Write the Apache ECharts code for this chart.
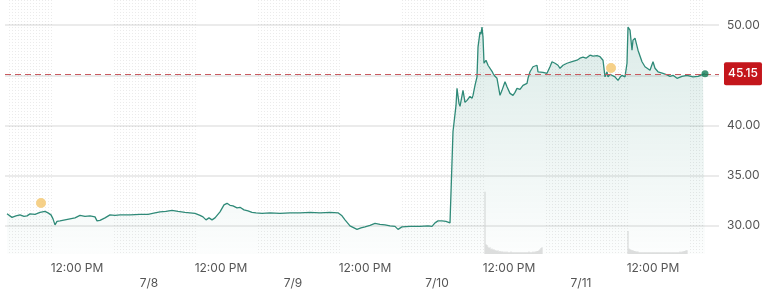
<!DOCTYPE html>
<html>
<head>
<meta charset="utf-8">
<script src="https://cdn.jsdelivr.net/npm/echarts@6/dist/echarts.min.js"></script>
<style>
html,body{margin:0;padding:0;background:#fff;}
#chart{width:768px;height:297px;}
</style>
</head>
<body>
<div id="chart"></div>
<script>
// ---------- DATA ----------
const YEAR = 2025, MONTH = 7;
// price points per day: [time, price]
const price_0707 = [['00:20',31.2],['01:10',30.85],['01:50',31.0],['02:30',31.1],['03:10',30.95],['03:40',31.0],['04:10',31.2],['05:00',31.15],['05:50',31.35],['06:40',31.45],['07:10',31.3],['07:40',31.1],['08:00',30.7],['08:20',30.1],['08:40',30.45],['09:10',30.5],['10:00',30.6],['10:50',30.7],['11:40',30.8],['12:30',31.05],['13:20',30.95],['14:10',31.0],['15:00',30.9],['15:20',30.5],['15:50',30.55],['16:40',30.8],['17:30',31.1],['18:20',31.05],['19:10',31.1],['20:50',31.1],['22:30',31.15],['23:50',31.15]];
const price_0708 = [['01:00',31.3],['01:50',31.4],['02:50',31.45],['03:50',31.55],['04:50',31.45],['06:00',31.35],['07:40',31.25],['08:30',31.05],['09:00',30.9],['09:30',30.6],['10:00',30.8],['10:30',30.6],['11:00',30.8],['11:50',31.4],['12:30',32.1],['13:00',32.25],['13:30',32.05],['14:00',32.0],['14:40',31.8],['15:10',31.85],['15:50',31.6],['16:30',31.5],['17:10',31.35],['17:50',31.3],['18:50',31.25],['20:10',31.3],['21:50',31.25],['23:30',31.3]];
const price_0709 = [['01:10',31.3],['02:50',31.35],['04:30',31.3],['06:10',31.35],['07:30',31.3],['08:10',31.0],['08:40',30.6],['09:30',30.0],['10:10',29.8],['10:40',29.65],['11:20',29.8],['12:00',29.9],['12:50',30.05],['13:40',30.25],['14:30',30.15],['15:20',30.1],['16:10',30.0],['17:00',29.95],['17:30',29.65],['18:10',29.9],['19:30',29.95],['21:10',29.95],['22:30',30.0],['23:10',29.95],['23:40',30.3]];
const price_0710 = [['00:10',30.5],['00:50',30.5],['01:30',30.45],['02:10',30.3],['02:30',30.35],['02:40',39.4],['03:00',39.5],['03:10',42.0],['03:20',43.7],['03:40',42.2],['03:50',41.9],['04:20',43.5],['04:40',42.3],['05:00',42.5],['05:30',42.9],['05:50',42.7],['06:00',43.0],['06:20',44.0],['06:40',44.85],['06:50',47.8],['07:10',49.3],['07:20',49.1],['07:30',49.8],['07:40',48.8],['07:50',46.2],['08:10',46.5],['08:30',46.0],['08:50',45.85],['09:10',45.4],['09:20',45.2],['09:40',44.9],['10:00',44.7],['10:30',43.0],['10:50',43.5],['11:20',44.35],['11:40',43.85],['12:10',43.2],['12:40',43.0],['13:00',43.3],['13:20',43.7],['13:50',43.6],['14:20',44.0],['14:40',43.9],['15:00',44.2],['15:10',44.7],['15:30',45.35],['16:00',45.85],['16:20',45.9],['16:40',46.0],['16:50',45.35],['17:10',45.4],['17:40',45.3],['18:20',45.2],['18:50',45.85],['19:10',46.35],['19:40',46.2],['20:10',46.0],['20:30',45.7],['21:00',46.0],['21:40',46.2],['22:30',46.35],['23:20',46.5],['23:50',46.7]];
const price_0711 = [['00:20',46.8],['00:50',46.7],['01:30',47.0],['02:00',46.9],['02:40',46.95],['03:10',46.85],['03:40',46.5],['04:00',44.85],['04:20',45.35],['04:30',44.85],['04:50',45.1],['05:10',45.0],['05:40',44.85],['06:10',44.5],['06:30',44.8],['06:50',45.0],['07:20',44.85],['07:40',46.2],['07:50',49.8],['08:10',49.5],['08:30',47.5],['08:40',48.5],['09:00',48.7],['09:30',47.5],['10:10',46.35],['10:40',45.85],['11:30',45.5],['12:00',46.35],['12:20',45.7],['12:50',45.35],['13:40',45.2],['14:20',45.05],['14:50',44.9],['15:20',45.0],['16:00',44.7],['16:50',44.9],['17:40',45.0],['18:40',44.85],['19:30',44.9],['20:20',45.1],['20:40',45.15]];

// volume (10-minute buckets)
const volume_0710_start = '08:00';
const volume_0710 = [10.3,1.6,1.5,1.2,1.0,1.1,0.8,0.9,0.7,0.8,0.6,0.6,0.5,0.6,0.4,0.5,0.4,0.4,0.4,0.3,0.4,0.3,0.4,0.3,0.3,0.3,0.4,0.3,0.3,0.3,0.3,0.3,0.3,0.3,0.3,0.3,0.3,0.3,0.3,0.3,0.3,0.3,0.3,0.3,0.4,0.3,0.3,0.3,0.4,0.3,0.4,0.4,0.5,0.5,0.6,0.8,1.0,1.1];
const volume_0711_start = '07:50';
const volume_0711 = [3.8,0.9,0.8,0.7,0.6,0.6,0.5,0.5,0.4,0.4,0.4,0.3,0.3,0.3,0.3,0.3,0.3,0.3,0.3,0.3,0.3,0.3,0.3,0.3,0.3,0.3,0.3,0.3,0.3,0.3,0.3,0.3,0.3,0.3,0.3,0.3,0.3,0.3,0.3,0.3,0.3,0.3,0.3,0.3,0.3,0.3,0.3,0.3,0.3,0.3,0.3,0.3,0.4,0.3,0.4,0.4,0.5,0.5,0.6,0.6];

// event markers [day, time, level]
const events = [[7,'06:00',32.28],[11,'05:00',45.73]];
// extended-hours sessions [startDay, startTime, endDay, endTime]
const sessions = [[7,'00:20',7,'08:00'],[7,'18:00',8,'08:00'],[8,'18:00',9,'08:00'],[9,'18:00',10,'08:00'],[10,'18:00',11,'08:00'],[11,'18:00',11,'20:40']];
// axis
const yTicks = [30,35,40,45,50];
const axisStart = [7,'00:00'], axisEnd = [11,'23:00'];

// ---------- BUILD ----------
function ts(day, hm){ const p = hm.split(':').map(Number); return Date.UTC(YEAR, MONTH-1, day, p[0], p[1]); }
const priceDays = [[7,price_0707],[8,price_0708],[9,price_0709],[10,price_0710],[11,price_0711]];
const priceData = [];
priceDays.forEach(([d, arr]) => arr.forEach(([t, v]) => priceData.push([ts(d, t), v])));
const last = priceData[priceData.length-1];
const STEP = 10*60*1000;
const volData = [];
volume_0710.forEach((v,i)=>volData.push([ts(10, volume_0710_start)+i*STEP, v]));
volume_0711.forEach((v,i)=>volData.push([ts(11, volume_0711_start)+i*STEP, v]));
const eventData = events.map(e=>[ts(e[0],e[1]), e[2]]);
const bandData = sessions.map(s=>[{xAxis: ts(s[0],s[1])},{xAxis: ts(s[2],s[3])}]);

const pc = document.createElement('canvas'); pc.width = 3; pc.height = 3;
const g = pc.getContext('2d'); g.fillStyle = 'rgba(0,0,0,0.08)'; g.fillRect(0,0,1,1);

const xMin = ts(axisStart[0], axisStart[1]), xMax = ts(axisEnd[0], axisEnd[1]);
const HALF = 12*3600*1000;
const FONT = 'Inter';

const chart = echarts.init(document.getElementById('chart'), null, {renderer:'canvas'});
chart.setOption({
  animation:false,
  grid:{left:5, right:49, top:0, bottom:43},
  xAxis:[{
    type:'value', min:xMin, max:xMax, interval:HALF,
    axisLine:{show:false}, axisTick:{show:false}, splitLine:{show:false},
    axisLabel:{margin:8, color:'#555', fontFamily:FONT, fontSize:12,
      formatter:v=>{ const d=new Date(v); return d.getUTCHours()===12 && d.getUTCMinutes()===0 ? '12:00 PM' : ''; }}
  },{
    type:'value', min:xMin, max:xMax, interval:HALF, position:'bottom',
    axisLine:{show:false}, axisTick:{show:false}, splitLine:{show:false},
    axisLabel:{margin:23, color:'#555', fontFamily:FONT, fontSize:12,
      formatter:v=>{ const d=new Date(v); if(v===xMin) return ''; return d.getUTCHours()===0 && d.getUTCMinutes()===0 ? (d.getUTCMonth()+1)+'/'+d.getUTCDate() : ''; }}
  }],
  yAxis:[{
    type:'value', position:'right', min:27.2, max:52.5, splitNumber:5,
    axisLine:{show:false}, axisTick:{show:false},
    splitLine:{show:true, showMinLine:false, showMaxLine:false, lineStyle:{color:'#e4e4e4', width:1.5}},
    axisLabel:{margin:8, color:'#555', fontFamily:FONT, fontSize:12, showMinLabel:false, showMaxLabel:false,
      formatter:v=> yTicks.indexOf(Math.round(v*100)/100)>=0 ? v.toFixed(2) : ''}
  },{
    type:'value', min:0, max:42, show:false, splitLine:{show:false}
  }],
  series:[{
    type:'bar', xAxisIndex:0, yAxisIndex:1, data:volData, barWidth:1,
    itemStyle:{color:'#d6d6d6'}, silent:true, z:1
  },{
    type:'line', xAxisIndex:0, yAxisIndex:0, data:priceData, showSymbol:false, z:3,
    lineStyle:{color:'#2f8a78', width:1.3},
    areaStyle:{origin:'start', color:new echarts.graphic.LinearGradient(0,0,0,1,[
      {offset:0, color:'rgba(47,138,120,0.24)'},
      {offset:1, color:'rgba(47,138,120,0.02)'}])},
    markArea:{silent:true, itemStyle:{color:{image:pc, repeat:'repeat'}}, data:bandData},
    markLine:{silent:true, symbol:'none', animation:false,
      lineStyle:{type:[6,4], color:'#c85a60', width:1.2},
      label:{position:'end', distance:5, formatter:()=>last[1].toFixed(2), backgroundColor:'#c4161c', color:'#fff',
        padding:[6,4,5,4], borderRadius:2, fontFamily:FONT, fontSize:12, fontWeight:500},
      data:[{yAxis:last[1]}]}
  },{
    type:'scatter', xAxisIndex:0, yAxisIndex:0, data:eventData, symbolSize:10,
    itemStyle:{color:'#f4c56c'}, z:4, silent:true
  },{
    type:'scatter', xAxisIndex:0, yAxisIndex:0, data:[last], symbolSize:7,
    itemStyle:{color:'#137a55'}, z:5, silent:true
  }]
});
</script>
</body>
</html>
